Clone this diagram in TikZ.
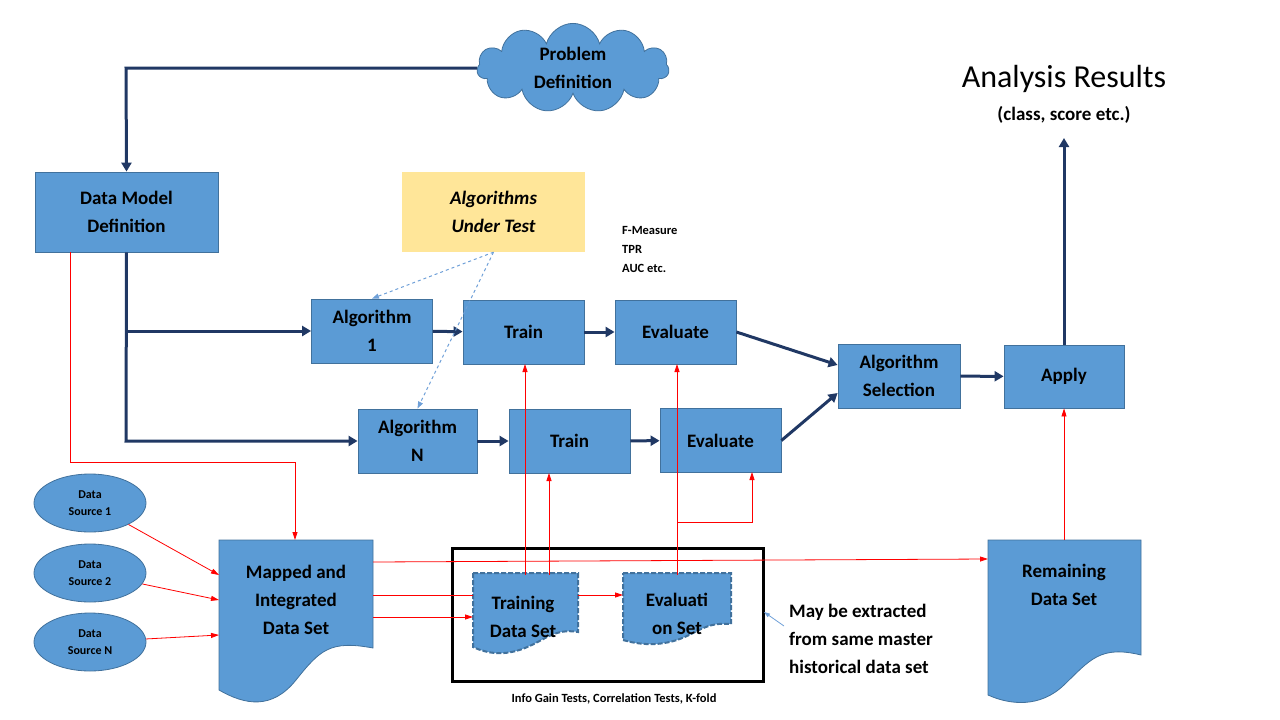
\documentclass[tikz,border=0pt]{standalone}
\usepackage{fontspec}
\setmainfont{Carlito}
\usetikzlibrary{shapes.symbols,shapes.geometric,arrows.meta}
\definecolor{bfill}{HTML}{5B9BD5}
\definecolor{bdraw}{HTML}{41719C}
\definecolor{navy}{HTML}{203864}
\definecolor{ylw}{HTML}{FFE699}
\definecolor{lblue}{HTML}{6FA0D8}
\tikzset{
 box/.style={rectangle,fill=bfill,draw=bdraw,line width=0.8pt,align=center,font=\fontsize{19}{28}\selectfont\bfseries,minimum width=121pt,minimum height=64pt,inner sep=1pt},
 doc/.style={fill=bfill,draw=bdraw,line width=0.8pt},
 ddoc/.style={fill=bfill,draw=bdraw,line width=2pt,dash pattern=on 5pt off 2pt},
 txt/.style={align=center,font=\fontsize{19}{28}\selectfont\bfseries,inner sep=0pt},
 src/.style={ellipse,fill=bfill,draw=bdraw,line width=0.8pt,minimum width=112pt,minimum height=58pt,align=center,font=\fontsize{12}{17}\selectfont\bfseries,inner sep=0pt},
 nav/.style={draw=navy,line width=3pt,-{Triangle[length=9pt,width=10pt]}},
 navl/.style={draw=navy,line width=3pt},
 red/.style={draw=red,line width=0.8pt,-{Triangle[length=8pt,width=5pt]}},
 redl/.style={draw=red,line width=0.8pt},
 dsh/.style={draw=lblue,line width=1pt,dashed,-{Triangle[length=7pt,width=5pt]}},
}
\begin{document}
\begin{tikzpicture}[x=1pt,y=-1pt]
\useasboundingbox (0,0) rectangle (1280,720);
% cloud
\node[cloud,cloud puffs=11,aspect=2.6,fill=bfill,draw=bdraw,line width=0.8pt,minimum width=192pt,minimum height=74pt,txt,inner sep=0pt] (pd) at (573,68) {Problem\\Definition};
\node[box,minimum width=183pt,minimum height=80pt] (dm) at (126.5,212) {Data Model\\Definition};
\node[rectangle,fill=ylw,minimum width=183pt,minimum height=80pt,align=center,font=\fontsize{19}{28}\selectfont\bfseries\itshape] (aut) at (493.5,212) {Algorithms\\Under Test};
\node[align=left,anchor=north west,font=\fontsize{12.5}{19}\selectfont\bfseries,inner sep=0pt] (fm) at (622,226) {F-Measure\\TPR\\AUC etc.};
\node[box] (a1) at (372,331) {Algorithm\\1};
\node[box] (t1) at (523.5,332) {Train};
\node[box] (e1) at (675.5,332) {Evaluate};
\node[box,minimum width=119pt] (an) at (417.5,441) {Algorithm\\N};
\node[box] (tn) at (569.5,441) {Train};
\node[box] (en) at (720.5,440.5) {Evaluate};
\node[box,minimum width=122pt] (as) at (899,376) {Algorithm\\Selection};
\node[box,minimum width=120pt,minimum height=63pt] (ap) at (1064,376.5) {Apply};
\node[font=\fontsize{32}{38}\selectfont,inner sep=0pt] (ar) at (1064,79) {Analysis Results};
\node[txt] (cs) at (1064,115) {(class, score etc.)};
\coordinate (arb) at (1064,138);
% sources
\node[src] (s1) at (90,503) {Data\\Source 1};
\node[src] (s2) at (90,573) {Data\\Source 2};
\node[src] (s3) at (90,642) {Data\\Source N};
% documents
\draw[doc] (219,540) -- (373,540) -- (373,648) .. controls (330,640) and (320,650) .. (296,680) .. controls (272,710) and (245,705) .. (219,690) -- cycle;
\node[txt] (md) at (296,600) {Mapped and\\Integrated\\Data Set};
\draw[doc] (988,540) -- (1141,540) -- (1141,655) .. controls (1100,645) and (1090,660) .. (1064,685) .. controls (1040,708) and (1010,705) .. (988,695) -- cycle;
\node[txt] (rd) at (1064,585) {Remaining\\Data Set};
\draw[black,line width=3pt] (452,548) rectangle (763,681);
\node[font=\fontsize{12.5}{15}\selectfont\bfseries,inner sep=0pt] (ig) at (614,699) {Info Gain Tests, Correlation Tests, K-fold};
\draw[ddoc] (473,573) -- (578,573) -- (578,632) .. controls (555,628) and (545,640) .. (525,648) .. controls (505,656) and (488,654) .. (473,647) -- cycle;
\node[txt] (td) at (523,617) {Training\\Data Set};
\draw[ddoc] (623,573) -- (731,573) -- (731,624) .. controls (705,622) and (700,632) .. (677,640) .. controls (658,646) and (640,645) .. (623,640) -- cycle;
\node[txt] (ev) at (677,614) {Evaluati\\on Set};
\node[txt,align=left,anchor=west] (me) at (789,639) {May be extracted\\from same master\\historical data set};
% navy connectors
\draw[nav] (pd.west) -- (126,68) -- (dm.north);
\draw[nav] (dm.south) -- (126,441) -- (an.west);
\draw[nav] (126,331) -- (a1.west);
\draw[nav] (a1) -- (t1);
\draw[nav] (t1) -- (e1);
\draw[nav] (an) -- (tn);
\draw[nav] (tn) -- (en);
\draw[nav] (e1.east) -- (as.west |- 0,365);
\draw[nav] (en.east) -- (as.west |- 0,393);
\draw[nav] (as) -- (ap);
\draw[nav] (ap.north) -- (arb);
% dashed
\draw[dsh] (aut.south) -- (a1.north);
\draw[dsh] (aut.south) -- (an.north);
% red
\draw[red] (70,252) -- (70,462) -- (295,462) -- (295,540);
\draw[red] (s1) -- (219,575);
\draw[red] (s2) -- (219,600);
\draw[red] (s3) -- (219,635);
\draw[red] (373,562) -- (988,559);
\draw[redl] (373,595) -- (473,595);
\draw[red] (373,617) -- (473,617);
\draw[red] (525,575) -- (525,364);
\draw[red] (549,575) -- (549,473);
\draw[red] (578,595) -- (623,595);
\draw[red] (677,575) -- (677,364);
\draw[red] (677,522) -- (752,522) -- (752,472);
\draw[red] (1064,540) -- (ap.south);
\draw[draw=lblue,line width=0.8pt,-{Triangle[length=6pt,width=4pt]}] (784,626) -- (764,612);
\end{tikzpicture}
\end{document}
